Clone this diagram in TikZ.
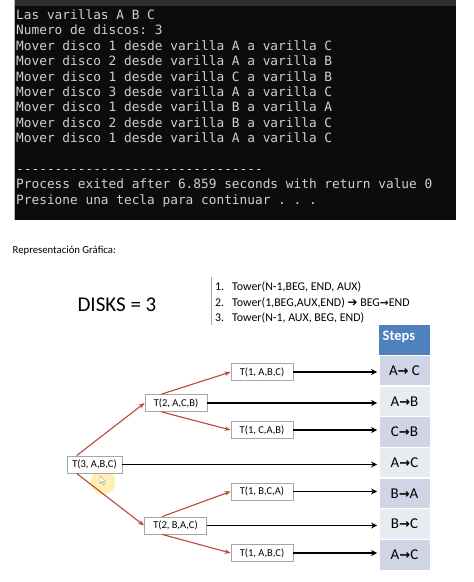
\documentclass[tikz,border=0pt]{standalone}
\usepackage{fontspec}
\setmainfont{Carlito}
\setmonofont{DejaVu Sans Mono}
\newfontfamily\djv{DejaVu Sans}
\usetikzlibrary{arrows.meta,calc}
\definecolor{termbg}{HTML}{0C0C0C}
\definecolor{termtop}{HTML}{2E2E2E}
\definecolor{termtxt}{HTML}{D0D0D0}
\definecolor{hdrblue}{HTML}{4F81BD}
\definecolor{rowdark}{HTML}{CFD5E4}
\definecolor{rowlight}{HTML}{E8EBF2}
\definecolor{redarr}{HTML}{B9473D}
\definecolor{boxgray}{HTML}{A6A6A6}
\newcommand{\sarr}{{\djv\bfseries\fontsize{13}{15}\selectfont →}}
\tikzset{
  termline/.style={anchor=base west, inner sep=0pt, text=termtxt, font=\ttfamily\fontsize{12.8}{15.4}\selectfont},
  tbox/.style={draw=boxgray, fill=white, line width=0.8pt, inner sep=1pt, minimum height=17pt, font=\fontsize{10.5}{12}\selectfont},
  steprow/.style={minimum width=51pt, minimum height=30.5pt, inner sep=0pt, draw=white, line width=0.8pt, font=\fontsize{15}{17}\selectfont},
  blackarr/.style={draw=black, line width=1.5pt, -{Stealth[length=6pt,width=6pt]}, shorten >=1.5pt},
  redarrow/.style={draw=redarr, line width=1.1pt, -{Stealth[length=6pt,width=4.5pt]}},
  listtxt/.style={anchor=west, inner sep=0pt, font=\fontsize{11.9}{13}\selectfont}
}
\begin{document}
\begin{tikzpicture}[x=1pt,y=-1pt]
\useasboundingbox (0,0) rectangle (474,582);
\fill[white] (0,0) rectangle (474,582);
% terminal
\fill[termbg] (14,0) rectangle (456,220);
\fill[termtop] (14,0) rectangle (456,6);
\draw[gray!60, line width=0.6pt] (14,0) -- (14,220);
\node[termline] (l1) at (16,19.5) {Las varillas A B C};
\node[termline] (l2) at (16,34.9) {Numero de discos: 3};
\node[termline] (l3) at (16,50.3) {Mover disco 1 desde varilla A a varilla C};
\node[termline] (l4) at (16,65.7) {Mover disco 2 desde varilla A a varilla B};
\node[termline] (l5) at (16,81.1) {Mover disco 1 desde varilla C a varilla B};
\node[termline] (l6) at (16,96.5) {Mover disco 3 desde varilla A a varilla C};
\node[termline] (l7) at (16,111.9) {Mover disco 1 desde varilla B a varilla A};
\node[termline] (l8) at (16,127.3) {Mover disco 2 desde varilla B a varilla C};
\node[termline] (l9) at (16,142.7) {Mover disco 1 desde varilla A a varilla C};
\node[termline] (l11) at (16,173.5) {--------------------------------};
\node[termline] (l12) at (16,188.9) {Process exited after 6.859 seconds with return value 0};
\node[termline] (l13) at (16,204.3) {Presione una tecla para continuar . . .};
% headings
\node[anchor=west, inner sep=0pt, font=\fontsize{10.7}{12}\selectfont] (rep) at (12.5,250.5) {Representación Gráfica:};
\node[inner sep=0pt, font=\fontsize{21}{24}\selectfont] (disks) at (117,305) {DISKS = 3};
\draw[gray!70, line width=0.8pt] (211,277) -- (211,325);
\node[listtxt] (n1) at (215,287) {1.};
\node[listtxt] (i1) at (232,287) {Tower(N-1,BEG, END, AUX)};
\node[listtxt] (n2) at (215,302.5) {2.};
\node[listtxt] (i2) at (232,302.5) {Tower(1,BEG,AUX,END) {\djv\fontsize{12}{13}\selectfont ➔} BEG{\djv\bfseries\fontsize{10.5}{12}\selectfont →}END};
\node[listtxt] (n3) at (215,318) {3.};
\node[listtxt] (i3) at (232,318) {Tower(N-1, AUX, BEG, END)};
% steps table
\node[fill=hdrblue, minimum width=51pt, minimum height=30pt, inner sep=0pt, anchor=north west] (hdr) at (379,325) {};
\node[anchor=west, inner sep=0pt, text=white, font=\bfseries\fontsize{14.5}{16}\selectfont] (hdrt) at (382.5,337) {Steps};
\node[steprow, fill=rowdark] (s1) at (404.5,370.5) {A\sarr{} C};
\node[steprow, fill=rowlight] (s2) at (404.5,401.2) {A\sarr B};
\node[steprow, fill=rowdark] (s3) at (404.5,431.9) {C\sarr B};
\node[steprow, fill=rowlight] (s4) at (404.5,462.6) {A\sarr C};
\node[steprow, fill=rowdark] (s5) at (404.5,493.3) {B\sarr A};
\node[steprow, fill=rowlight] (s6) at (404.5,524.0) {B\sarr C};
\node[steprow, fill=rowdark] (s7) at (404.5,554.7) {A\sarr C};
% cursor highlight
\fill[yellow!70!orange!40, opacity=0.75] (103,482) circle (12.5);
% tree
\node[tbox, minimum width=55pt] (t3) at (94.5,464.5) {T(3, A,B,C)};
\node[tbox, minimum width=62pt] (a2) at (176,403) {T(2, A,C,B)};
\node[tbox, minimum width=62pt] (b2) at (175.5,525.5) {T(2, B,A,C)};
\node[tbox, minimum width=62pt] (c1) at (262,372) {T(1, A,B,C)};
\node[tbox, minimum width=62pt] (c2) at (262,430) {T(1, C,A,B)};
\node[tbox, minimum width=62pt] (c3) at (262,491.5) {T(1, B,C,A)};
\node[tbox, minimum width=62pt] (c4) at (262,553) {T(1, A,B,C)};
% cursor
\coordinate (cur) at (100,476);
\draw[gray!80, fill=white, line width=0.4pt] (cur) -- ++(0,7.5) -- ++(1.8,-1.8) -- ++(1.6,3) -- ++(1.2,-0.6) -- ++(-1.5,-2.9) -- ++(2.6,0) -- cycle;
% red arrows
\draw[redarrow] ($(t3.north west)+(10,0)$) -- (a2.west);
\draw[redarrow] ($(t3.south west)+(10,0)$) -- (b2.west);
\draw[redarrow] ($(a2.north west)+(17,0)$) -- (c1.west);
\draw[redarrow] ($(a2.south west)+(17,0)$) -- (c2.west);
\draw[redarrow] ($(b2.north west)+(18,0)$) -- (c3.west);
\draw[redarrow] ($(b2.south west)+(18,0)$) -- (c4.west);
% black arrows
\draw[blackarr] (c1.east) -- (c1.east -| s1.west);
\draw[blackarr] (a2.east) -- (a2.east -| s2.west);
\draw[blackarr] (c2.east) -- (c2.east -| s3.west);
\draw[blackarr] (t3.east) -- (t3.east -| s4.west);
\draw[blackarr] (c3.east) -- (c3.east -| s5.west);
\draw[blackarr] (b2.east) -- (b2.east -| s6.west);
\draw[blackarr] (c4.east) -- (c4.east -| s7.west);
\end{tikzpicture}
\end{document}
